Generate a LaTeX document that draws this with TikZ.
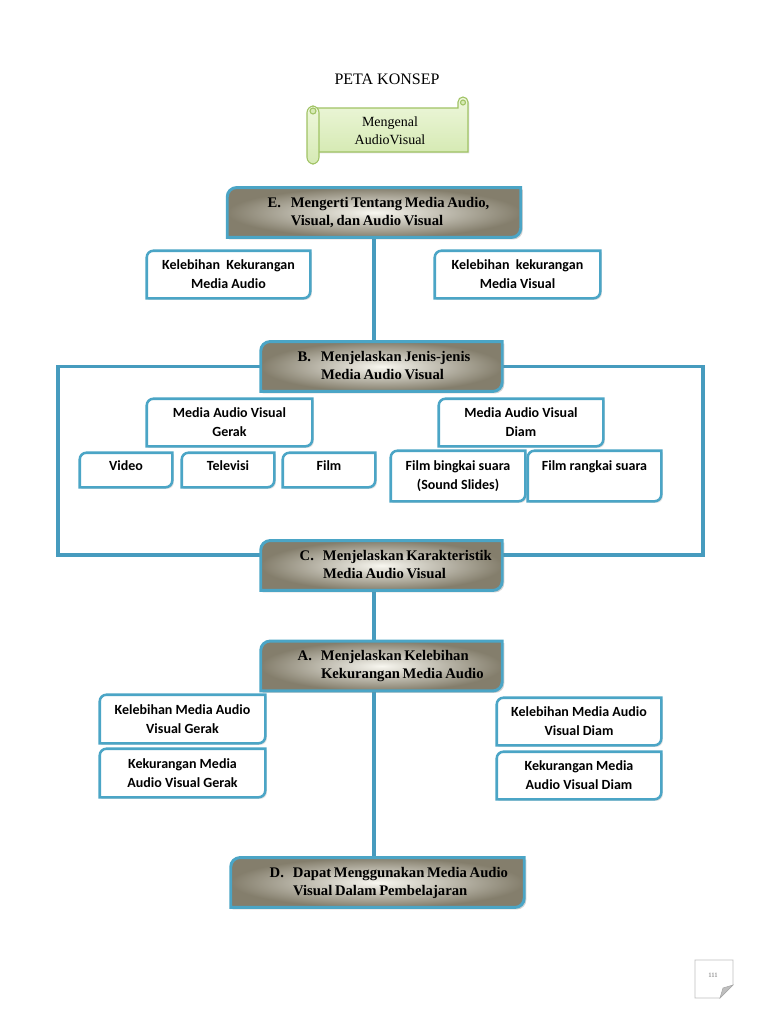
\documentclass[tikz,border=0pt]{standalone}
\usepackage{fontspec}
\setmainfont{Liberation Serif}
\newfontfamily\calibri{Carlito}
\usetikzlibrary{backgrounds, shadows}

\definecolor{boxblue}{RGB}{75,165,198}
\definecolor{linkblue}{RGB}{70,155,190}
\definecolor{hdrout}{RGB}{132,126,108}
\definecolor{hdrin}{RGB}{248,247,240}
\definecolor{scrolltop}{RGB}{238,247,220}
\definecolor{scrollbot}{RGB}{214,234,180}
\definecolor{scrollline}{RGB}{160,195,100}

% box with rounded top left and bottom right corners
\newcommand{\cutbox}[3]{%
\path[#3] ([yshift=-#2]#1.north west) arc[start angle=180, end angle=90, radius=#2] -- (#1.north east) -- ([yshift=#2]#1.south east) arc[start angle=0, end angle=-90, radius=#2] -- (#1.south west) -- cycle;}
\newcommand{\tightsp}{\spaceskip=2pt plus .5pt\relax}
\newcommand{\hdrtext}[3]{\begin{tabular}{@{}p{17.5pt}@{}l@{}}#1 & \tightsp #2\\ & \tightsp #3\end{tabular}}

\tikzset{
hdr/.style={inner sep=0pt, minimum height=37pt, align=left, font=\fontsize{11}{13.7}\selectfont\bfseries},
sbox/.style={inner sep=2pt, align=center, font=\calibri\bfseries\fontsize{10.5}{14.3}\selectfont},
wh/.style 2 args={minimum width=#1*.75pt, minimum height=#2*.75pt},
hframe/.style={draw=boxblue, line width=2.2pt, inner color=hdrin, outer color=hdrout, drop shadow={shadow xshift=1.5pt, shadow yshift=-1.5pt, opacity=.35}},
sframe/.style={draw=boxblue, line width=1.9pt, fill=white, drop shadow={shadow xshift=1.2pt, shadow yshift=-1.2pt, opacity=.25}},
link/.style={draw=linkblue, line width=2.3pt},
scroll/.style={draw=scrollline, line width=.8pt, top color=scrolltop, bottom color=scrollbot}
}

\begin{document}
\begin{tikzpicture}[x=.75pt, y=.75pt]
\useasboundingbox (0,0) rectangle (768,-1024);

\node[font=\fontsize{12}{14}\selectfont] (title) at (387,-79) {PETA KONSEP};
\node[align=center, font=\fontsize{10.5}{13.5}\selectfont] (intro) at (390,-131) {Mengenal\\AudioVisual};

\node[hdr, text width=219.75pt] (E) at (374,-212.5) {\noindent\hspace*{30pt}\hdrtext{E.}{Mengerti Tentang Media Audio,}{Visual, dan Audio Visual}};
\node[hdr, text width=180.75pt] (B) at (381.5,-366.5) {\noindent\hspace*{27.5pt}\hdrtext{B.}{Menjelaskan Jenis-jenis}{Media Audio Visual}};
\node[hdr, text width=180.75pt] (C) at (381.5,-565.5) {\noindent\hspace*{29pt}\hdrtext{C.}{Menjelaskan Karakteristik}{Media Audio Visual}};
\node[hdr, text width=180.75pt] (A) at (381.5,-666) {\noindent\hspace*{27.5pt}\hdrtext{A.}{Menjelaskan Kelebihan}{Kekurangan Media Audio}};
\node[hdr, text width=219.75pt] (D) at (377.5,-882.5) {\noindent\hspace*{29pt}\hdrtext{D.}{Dapat Menggunakan Media Audio}{Visual Dalam Pembelajaran}};

\node[sbox, wh={163}{47}] (kka) at (228.5,-274.5) {Kelebihan\ \ Kekurangan\\Media Audio};
\node[sbox, wh={165}{47}] (kkv) at (517.5,-274.5) {Kelebihan\ \ kekurangan\\Media Visual};
\node[sbox, wh={165}{47}] (gerak) at (229.5,-422.5) {Media Audio Visual\\Gerak};
\node[sbox, wh={164}{47}] (diam) at (521,-422.5) {Media Audio Visual\\Diam};
\node[sbox, wh={92}{34}, text depth=6pt] (video) at (126,-470) {Video};
\node[sbox, wh={92}{34}, text depth=6pt] (tv) at (228,-470) {Televisi};
\node[sbox, wh={92}{34}, text depth=6pt] (film) at (329,-470) {Film};
\node[sbox, wh={134}{50}] (fbs) at (458,-476) {Film bingkai suara\\(Sound Slides)};
\node[sbox, wh={133}{50}, text depth=16pt] (frs) at (594.5,-476) {Film rangkai suara};
\node[sbox, wh={165}{48}] (lg) at (182.5,-719) {Kelebihan Media Audio\\Visual Gerak};
\node[sbox, wh={165}{48}] (kg) at (182.5,-773) {Kekurangan Media\\Audio Visual Gerak};
\node[sbox, wh={164}{47}] (ld) at (579,-721.5) {Kelebihan Media Audio\\Visual Diam};
\node[sbox, wh={164}{47}] (kd) at (579,-775.5) {Kekurangan Media\\Audio Visual Diam};

\node[font=\fontsize{5}{6}\selectfont, text=black!60] (pnum) at (713,-975) {111};

\coordinate (bl) at (58,-555);
\coordinate (br) at (703,-555);

\begin{scope}[on background layer]
\fill[white] (0,0) rectangle (768,-1024);
% scroll
\path[scroll, drop shadow={shadow xshift=1pt, shadow yshift=-1pt, opacity=.2}] (316,-108) -- (458,-108) -- (458,-102) arc[start angle=180, end angle=0, radius=5] -- (468,-152) -- (316,-152) -- cycle;
\path[draw=scrollline, fill=scrollbot, line width=.8pt] (463,-102.5) circle[radius=2.5];
\path[scroll, rounded corners=5pt] (307,-106) rectangle (319,-164);
\path[draw=scrollline, fill=scrollbot, line width=.8pt] (313,-111) circle[radius=3];
% page mark
\path[draw=black!25, fill=white] (695,-960) -- (733,-960) -- (733,-985) -- (720,-998) -- (695,-998) -- cycle;
\path[draw=black!35, fill=black!25] (733,-985) -- (723,-988) -- (720,-998) -- cycle;

\draw[link] (E.south) -- (E.south |- B.north);
\draw[link] (B.west) -| (bl) -- (bl -| C.west);
\draw[link] (B.east) -| (br) -- (br -| C.east);
\draw[link] (C.south -| E.south) -- (A.north -| E.south);
\draw[link] (A.south -| E.south) -- (D.north -| E.south);

\foreach \n in {E,B,C,A,D}
\cutbox{\n}{7pt}{hframe};
\foreach \n in {kka,kkv,gerak,diam,video,tv,film,fbs,frs,lg,kg,ld,kd}
\cutbox{\n}{5pt}{sframe};
\end{scope}
\end{tikzpicture}
\end{document}
